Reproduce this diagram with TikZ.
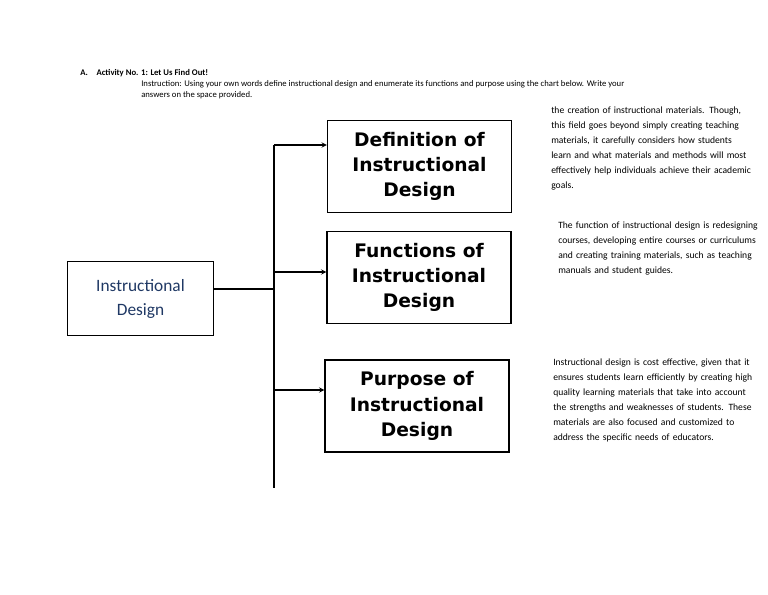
\documentclass[tikz,border=0pt]{standalone}
\usepackage{fontspec}
\setmainfont{Carlito}
\newfontfamily\boxfont{DejaVu Sans}
\usetikzlibrary{positioning}
\definecolor{titleblue}{RGB}{31,56,100}
\tikzset{
  topicbox/.style={draw,thick,minimum width=138pt,minimum height=69pt,align=center,font=\boxfont\bfseries\fontsize{14}{19}\selectfont},
  notetext/.style={anchor=north west,align=left,text width=150pt,inner sep=0pt,font=\fontsize{7.2}{11.2}\selectfont},
  branch/.style={thick,->,>=stealth}
}
\begin{document}
\begin{tikzpicture}[x=0.75pt,y=-0.75pt]
\useasboundingbox (0,0) rectangle (768,594);

% heading
\node[anchor=west,inner sep=0pt,font=\bfseries\fontsize{6.5}{8}\selectfont] (head) at (80,73) {A.\quad Activity No. 1: Let Us Find Out!};
\node[anchor=north west,inner sep=0pt,align=left,font=\fontsize{6.5}{8.5}\selectfont] (instr) at (141,80) {Instruction: Using your own words define instructional design and enumerate its functions and purpose using the chart below. Write your\\answers on the space provided.};

% boxes
\node[draw,thick,minimum width=109pt,minimum height=55pt,align=center,text=titleblue,font=\fontsize{13}{18}\selectfont] (main) at (140.5,298.5) {Instructional\\Design};
\node[topicbox] (defn) at (419.5,166.5) {Definition of\\Instructional\\Design};
\node[topicbox] (func) at (419,277.5) {Functions of\\Instructional\\Design};
\node[topicbox] (purp) at (417,406) {Purpose of\\Instructional\\Design};

% connectors
\coordinate (top) at (274,145);
\coordinate (bot) at (274,488);
\coordinate (mid) at (274,289);
\draw[thick] (top) -- (bot);
\draw[thick] (main.east |- mid) -- (mid);
\draw[branch] (top) -- (defn.west |- top);
\draw[branch] (274,272) -- (func.west |- 0,272);
\draw[branch] (274,390) -- (purp.west |- 0,390);

% answers
\node[notetext] (defnote) at (551,107) {the creation of instructional materials. Though, this field goes beyond simply creating teaching materials, it carefully considers how students learn and what materials and methods will most effectively help individuals achieve their academic goals.};
\node[notetext] (funcnote) at (558,222) {The function of instructional design is redesigning courses, developing entire courses or curriculums and creating training materials, such as teaching manuals and student guides.};
\node[notetext] (purpnote) at (553,359) {Instructional design is cost effective, given that it ensures students learn efficiently by creating high quality learning materials that take into account the strengths and weaknesses of students. These materials are also focused and customized to address the specific needs of educators.};
\end{tikzpicture}
\end{document}
